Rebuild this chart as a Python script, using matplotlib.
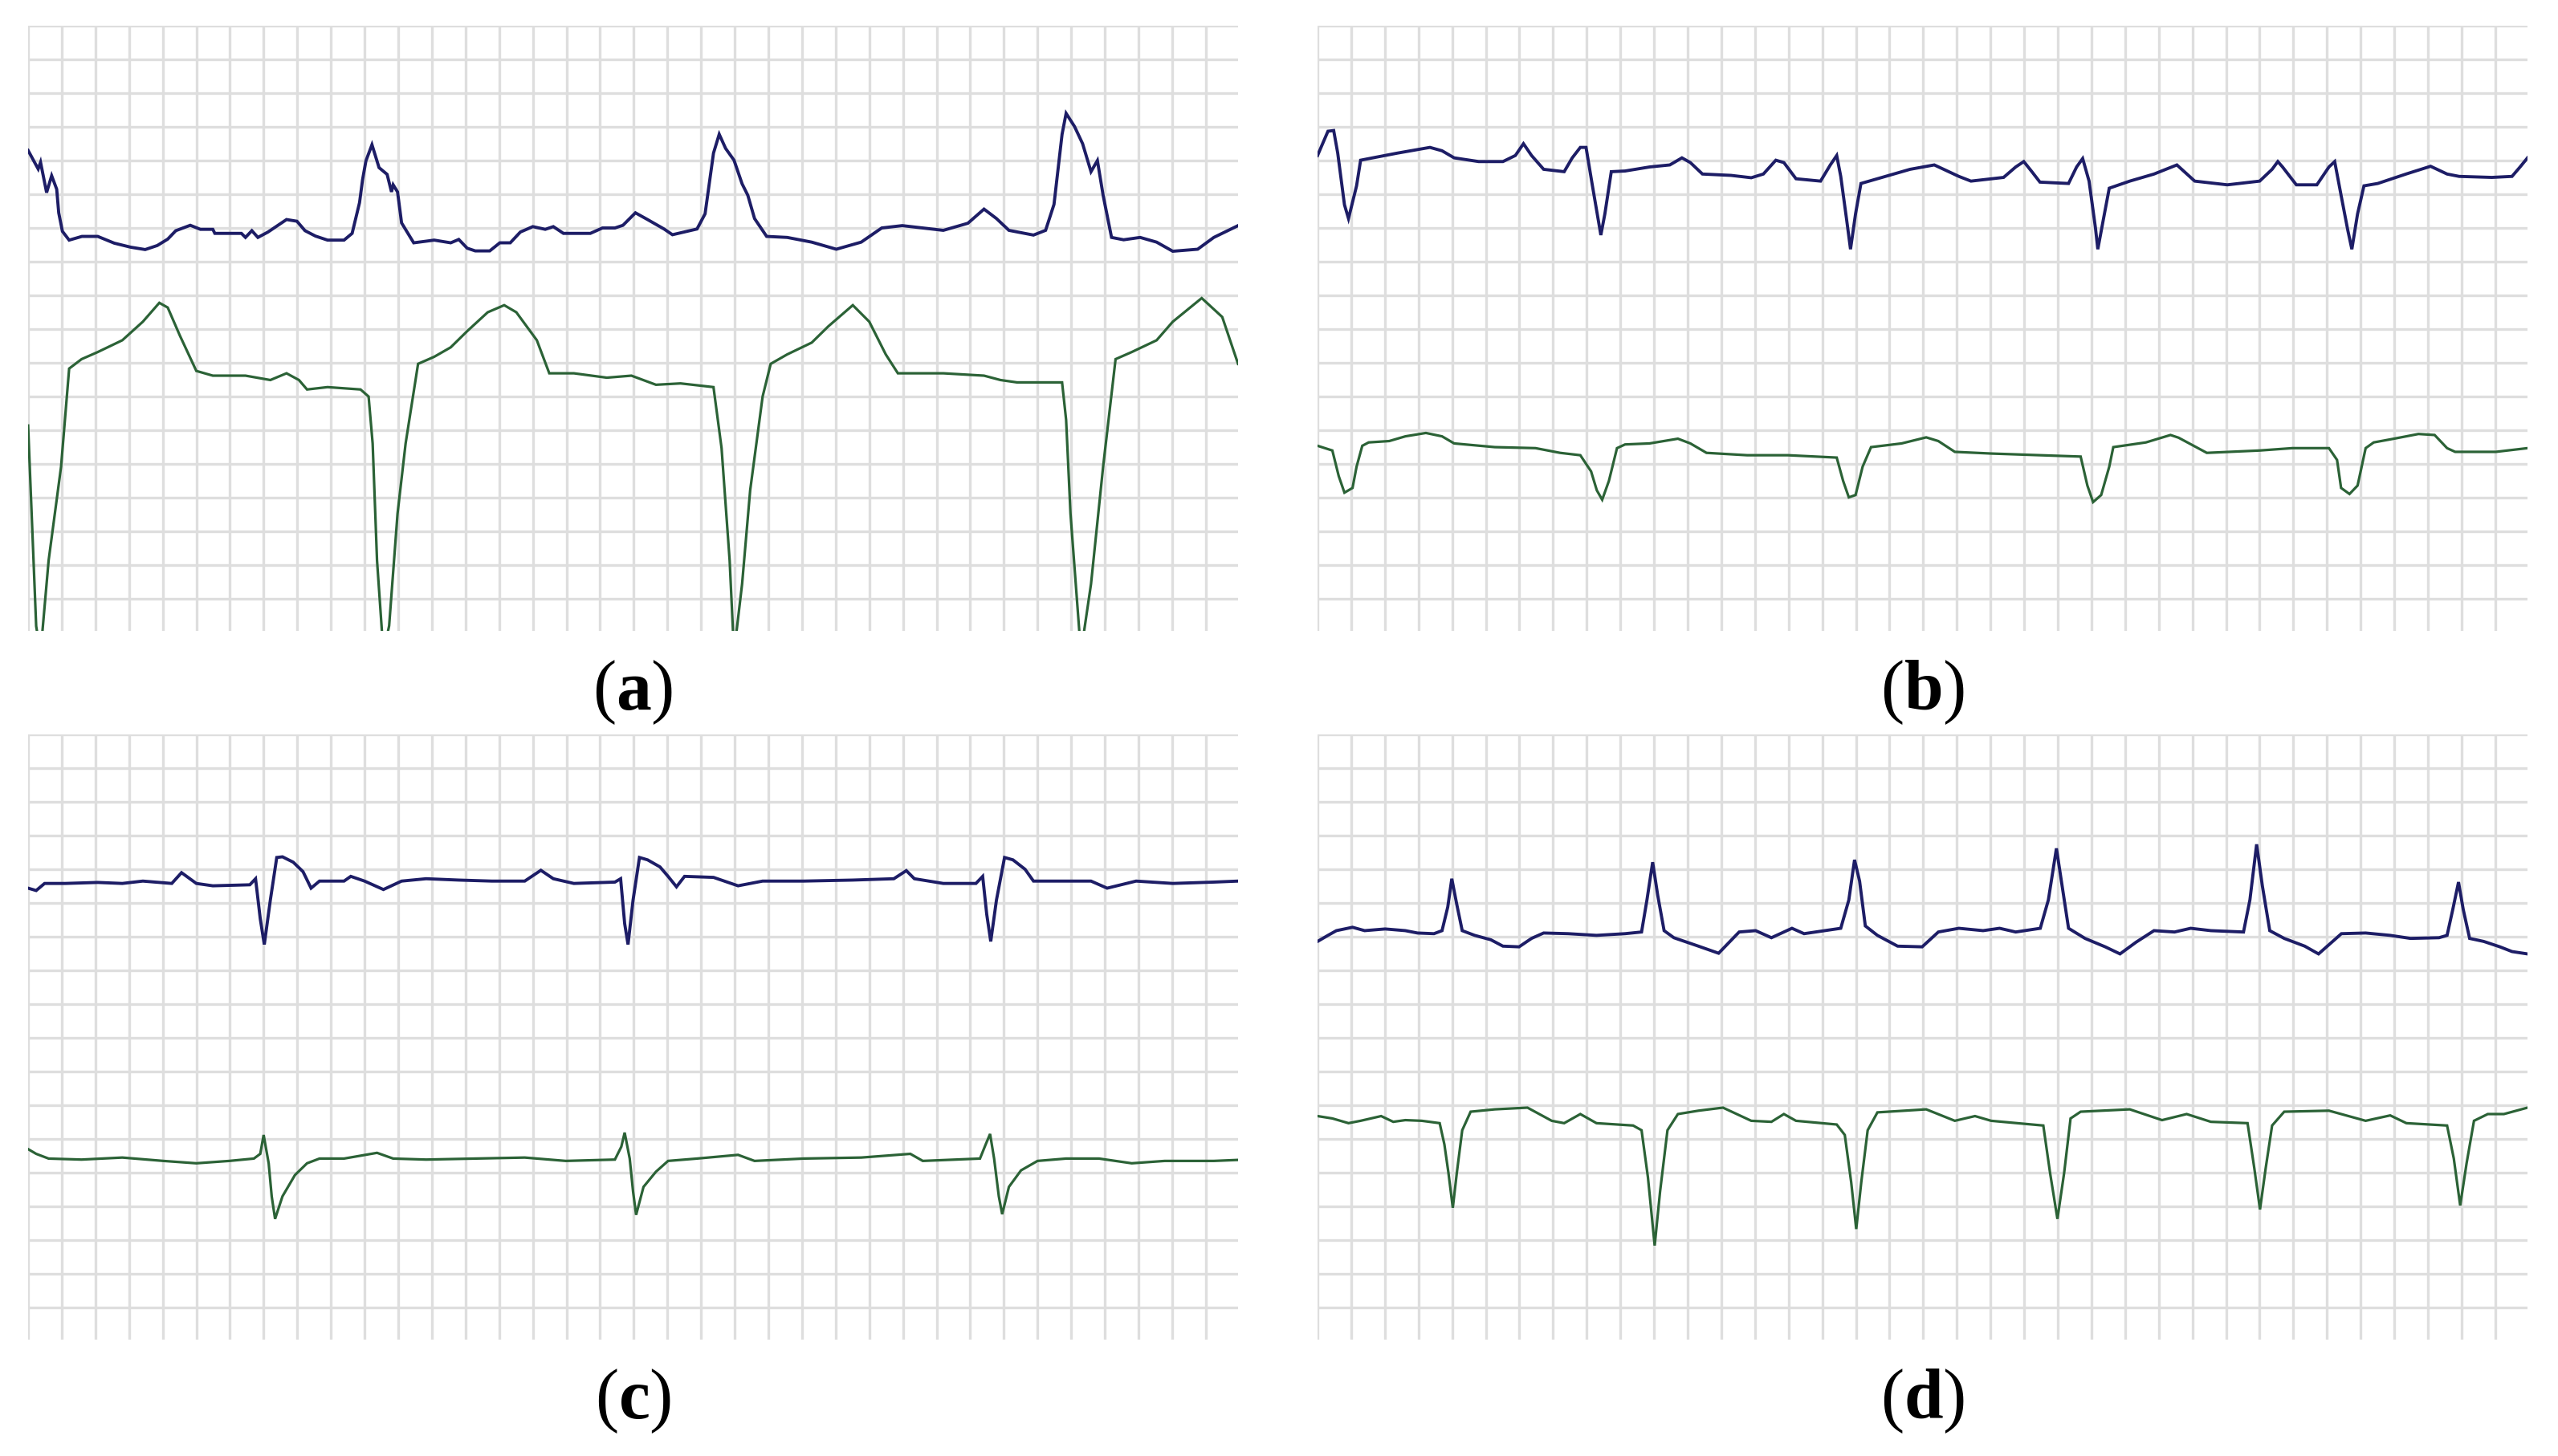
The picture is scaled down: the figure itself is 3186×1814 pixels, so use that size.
import matplotlib
matplotlib.use('Agg')
import matplotlib.pyplot as plt

plt.rcParams['mathtext.fontset'] = 'custom'
plt.rcParams['mathtext.rm'] = 'Liberation Serif'
plt.rcParams['mathtext.bf'] = 'Liberation Serif:bold'

# ---------------- data (grid units: x = small squares from left, y = squares from top) -------------
a_blue_x = [0.00,0.30,0.37,0.55,0.70,0.85,0.91,1.02,1.22,1.60,2.07,2.56,3.05,3.48,3.84,4.15,4.39,4.82,5.12,5.49,
            5.55,6.34,6.46,6.65,6.83,7.13,7.68,7.99,8.23,8.54,8.90,9.39,9.63,9.85,9.94,10.04,10.22,10.43,10.67,10.80,
            10.85,10.98,11.10,11.46,12.07,12.56,12.80,13.05,13.29,13.72,14.02,14.33,14.63,15.00,15.37,15.61,15.91,16.71,
            17.07,17.44,17.68,18.05,18.41,18.90,19.15,19.88,20.12,20.37,20.54,20.73,20.98,21.22,21.39,21.59,21.95,22.56,
            23.29,24.02,24.76,25.37,25.98,27.20,27.93,28.41,28.78,29.15,29.88,30.24,30.49,30.73,30.85,31.10,31.34,31.59,
            31.78,31.95,32.20,32.56,33.05,33.54,34.02,34.76,35.24,35.96]
a_blue_y = [3.70,4.25,4.05,4.95,4.45,4.85,5.55,6.10,6.36,6.25,6.25,6.45,6.57,6.64,6.52,6.33,6.08,5.92,6.04,6.04,
            6.16,6.16,6.28,6.08,6.28,6.12,5.75,5.80,6.08,6.24,6.36,6.36,6.16,5.25,4.57,4.01,3.53,4.21,4.41,4.93,
            4.72,4.93,5.85,6.44,6.36,6.44,6.34,6.60,6.68,6.68,6.44,6.44,6.12,5.96,6.04,5.96,6.16,6.16,
            6.00,6.00,5.92,5.55,5.75,6.03,6.20,6.03,5.58,3.78,3.22,3.64,3.99,4.69,5.03,5.72,6.25,6.28,
            6.42,6.63,6.42,6.00,5.93,6.07,5.86,5.44,5.72,6.07,6.21,6.07,5.30,3.22,2.60,2.99,3.50,4.33,
            4.00,5.03,6.28,6.35,6.28,6.42,6.69,6.63,6.28,5.93]

a_green_x = [0.00,0.24,0.37,0.61,0.98,1.22,1.59,2.07,2.80,3.41,3.90,4.15,4.51,5.00,5.49,6.46,7.20,7.68,8.05,8.29,
             8.90,9.88,10.12,10.24,10.37,10.56,10.73,10.98,11.22,11.59,12.07,12.56,13.05,13.66,14.15,14.51,15.12,15.49,
             16.22,17.20,17.93,18.66,19.39,20.37,20.61,20.85,20.98,21.22,21.46,21.83,22.07,22.56,23.29,23.78,24.51,
             25.00,25.49,25.85,27.20,28.41,28.90,29.39,30.73,30.85,30.98,31.29,31.59,31.95,32.32,32.80,33.54,34.02,
             34.88,35.49,35.96]
a_green_y = [11.86,17.81,18.60,15.86,13.08,10.17,9.89,9.68,9.33,8.78,8.22,8.36,9.19,10.24,10.38,10.38,10.51,10.31,10.51,10.79,
             10.72,10.79,11.00,12.39,15.86,18.60,17.80,14.47,12.39,10.03,9.82,9.54,9.06,8.50,8.29,8.50,9.33,10.31,
             10.31,10.44,10.38,10.65,10.61,10.72,12.53,15.86,18.60,16.56,13.78,11.00,10.03,9.75,9.40,8.92,8.29,
             8.78,9.75,10.31,10.31,10.38,10.51,10.58,10.58,11.69,14.47,18.60,16.56,13.08,9.89,9.68,9.33,8.78,
             8.08,8.64,10.03]

b_blue_x = [0.00,0.31,0.48,0.60,0.80,0.92,1.16,1.28,1.64,2.37,3.34,3.70,4.06,4.79,5.51,5.88,6.12,6.36,6.72,7.33,
            7.57,7.81,7.98,8.17,8.42,8.54,8.73,9.14,9.87,10.47,10.83,11.08,11.44,12.29,12.89,13.25,13.62,13.86,14.22,
            14.95,15.24,15.43,15.55,15.72,15.84,15.99,16.15,16.88,17.61,18.33,19.06,19.42,20.39,20.75,20.99,21.23,
            21.47,22.32,22.56,22.74,22.93,23.12,23.19,23.36,23.53,24.14,24.86,25.54,26.07,27.04,28.00,28.37,28.54,
            28.68,29.09,29.70,30.06,30.23,30.42,30.62,30.74,30.91,31.10,31.51,32.35,33.08,33.57,33.93,34.90,35.50,
            35.74,35.96]
b_blue_y = [3.85,3.13,3.11,3.78,5.31,5.72,4.75,3.99,3.92,3.78,3.61,3.71,3.92,4.03,4.03,3.85,3.50,3.85,4.26,4.33,
            3.92,3.61,3.61,4.75,6.21,5.58,4.33,4.31,4.19,4.13,3.92,4.06,4.40,4.44,4.51,4.40,3.99,4.06,4.54,
            4.61,4.13,3.85,4.47,5.72,6.63,5.58,4.68,4.47,4.26,4.13,4.47,4.61,4.50,4.19,4.03,4.33,
            4.64,4.68,4.19,3.94,4.61,6.00,6.63,5.72,4.82,4.61,4.40,4.13,4.61,4.72,4.61,4.26,4.03,
            4.19,4.72,4.72,4.19,4.03,5.03,6.07,6.63,5.58,4.75,4.68,4.40,4.17,4.40,4.47,4.50,4.47,
            4.19,3.92]

b_green_x = [0.00,0.44,0.63,0.80,1.04,1.16,1.33,1.52,2.13,2.61,3.22,3.70,4.06,5.27,6.48,7.21,7.81,8.13,8.30,8.46,
             8.66,8.90,9.14,9.87,10.71,11.08,11.56,12.77,13.98,15.43,15.62,15.79,15.99,16.20,16.45,17.36,18.09,18.45,
             18.94,20.02,21.48,22.68,22.88,23.05,23.29,23.53,23.65,24.62,25.35,25.59,26.43,28.00,28.97,30.06,30.30,
             30.42,30.67,30.91,31.15,31.39,31.99,32.72,33.20,33.57,33.81,35.02,35.96]
b_green_y = [12.46,12.60,13.36,13.85,13.71,13.08,12.46,12.36,12.32,12.18,12.08,12.18,12.39,12.50,12.53,12.67,12.74,13.22,13.78,14.06,
             13.50,12.53,12.42,12.39,12.25,12.39,12.67,12.74,12.74,12.81,13.50,13.99,13.92,13.08,12.50,12.39,12.21,12.32,
             12.64,12.69,12.74,12.78,13.64,14.13,13.92,13.08,12.50,12.36,12.14,12.22,12.67,12.60,12.53,12.53,12.88,
             13.71,13.89,13.64,12.53,12.36,12.25,12.11,12.14,12.53,12.64,12.64,12.53]

c_blue_x = [0.00,0.24,0.49,1.10,2.07,2.80,3.41,4.27,4.56,5.00,5.49,6.59,6.76,6.90,7.02,7.20,7.39,7.56,7.88,8.17,
            8.41,8.66,9.39,9.59,10.00,10.56,11.10,11.83,12.80,13.78,14.76,15.24,15.61,16.22,17.44,17.61,17.73,17.83,
            17.98,18.17,18.41,18.78,19.02,19.27,19.51,20.37,21.10,21.83,23.05,24.51,25.73,26.10,26.34,27.20,28.17,
            28.37,28.49,28.61,28.78,29.02,29.27,29.63,29.88,30.12,31.59,32.07,32.93,34.02,35.24,35.96]
c_blue_y = [4.56,4.63,4.42,4.42,4.39,4.42,4.35,4.42,4.10,4.42,4.49,4.46,4.28,5.47,6.23,4.91,3.65,3.63,3.79,4.07,
            4.56,4.35,4.35,4.21,4.35,4.60,4.35,4.28,4.32,4.35,4.35,4.03,4.28,4.42,4.38,4.28,5.61,6.23,
            4.91,3.65,3.72,3.93,4.21,4.52,4.21,4.24,4.49,4.35,4.35,4.32,4.28,4.04,4.28,4.42,4.42,
            4.21,5.33,6.14,4.91,3.65,3.72,4.00,4.35,4.35,4.35,4.56,4.35,4.42,4.38,4.35]

c_green_x = [0.00,0.24,0.61,1.59,2.80,4.02,5.00,5.98,6.71,6.90,7.00,7.15,7.24,7.34,7.56,7.93,8.29,8.66,9.39,10.37,
             10.85,11.83,13.29,14.76,15.98,17.44,17.63,17.73,17.88,17.98,18.07,18.29,18.66,19.02,19.88,21.10,21.59,
             23.05,24.76,26.22,26.59,28.29,28.46,28.59,28.71,28.85,28.95,29.15,29.51,30.00,30.85,31.83,32.80,33.78,
             35.24,35.96]
c_green_y = [12.30,12.44,12.58,12.61,12.55,12.65,12.72,12.65,12.58,12.44,11.88,12.72,13.70,14.37,13.70,13.07,12.72,12.58,12.58,12.41,
             12.58,12.61,12.58,12.55,12.65,12.61,12.23,11.81,12.58,13.56,14.25,13.42,12.97,12.65,12.58,12.47,12.65,
             12.58,12.55,12.44,12.65,12.58,12.16,11.85,12.58,13.70,14.23,13.42,12.93,12.65,12.58,12.58,12.72,12.65,
             12.65,12.62]

d_blue_x = [0.00,0.31,0.56,1.04,1.40,2.01,2.61,2.97,3.46,3.70,3.87,3.99,4.14,4.30,4.67,5.15,5.51,5.99,6.36,6.72,
            7.45,8.29,9.14,9.63,9.79,9.96,10.11,10.30,10.59,11.32,11.92,12.53,13.02,13.49,14.10,14.46,15.55,15.79,
            15.96,16.11,16.28,16.64,17.24,17.97,18.45,19.06,19.78,20.27,20.75,21.48,21.72,21.96,22.15,22.32,22.81,
            23.41,23.85,24.33,24.86,25.47,25.95,26.55,27.52,27.71,27.91,28.08,28.30,28.73,29.34,29.75,30.43,31.15,
            31.88,32.48,33.33,33.57,33.74,33.91,34.05,34.24,34.66,35.14,35.50,35.96]
d_blue_y = [6.14,5.96,5.82,5.72,5.82,5.77,5.82,5.89,5.91,5.82,5.12,4.28,5.05,5.82,5.96,6.09,6.28,6.30,6.05,5.89,
            5.91,5.96,5.91,5.86,4.91,3.79,4.77,5.82,6.03,6.28,6.49,5.86,5.82,6.03,5.75,5.91,5.75,4.91,
            3.72,4.35,5.68,5.96,6.28,6.30,5.86,5.75,5.82,5.75,5.86,5.75,4.91,3.38,4.63,5.75,6.05,
            6.30,6.51,6.16,5.82,5.86,5.75,5.82,5.86,4.91,3.26,4.49,5.82,6.05,6.28,6.51,5.91,5.89,
            5.96,6.05,6.03,5.96,5.19,4.38,5.19,6.05,6.14,6.30,6.44,6.51]

d_green_x = [0.00,0.44,0.92,1.28,1.89,2.25,2.61,3.10,3.63,3.77,3.89,4.02,4.14,4.30,4.55,5.27,6.24,6.96,7.33,7.81,
             8.29,9.38,9.63,9.82,10.02,10.18,10.40,10.71,11.32,12.05,12.89,13.49,13.86,14.22,15.43,15.67,15.86,16.01,
             16.16,16.35,16.64,18.09,18.94,19.54,20.02,21.57,21.77,21.99,22.19,22.38,22.68,24.14,25.10,25.83,26.55,
             27.64,27.84,28.01,28.18,28.37,28.73,30.06,31.15,31.88,32.36,33.57,33.77,33.96,34.15,34.37,34.78,35.26,
             35.96]
d_green_y = [11.32,11.39,11.53,11.46,11.32,11.49,11.44,11.46,11.53,12.16,13.00,14.04,13.00,11.74,11.19,11.12,11.07,11.46,11.53,11.26,
             11.53,11.60,11.74,13.14,15.16,13.56,11.74,11.26,11.16,11.07,11.46,11.49,11.26,11.46,11.57,11.88,13.28,14.67,
             13.28,11.74,11.21,11.12,11.46,11.32,11.46,11.60,13.00,14.37,13.00,11.39,11.19,11.12,11.44,11.26,11.49,
             11.53,12.86,14.09,12.86,11.60,11.19,11.16,11.46,11.30,11.53,11.60,12.58,13.97,12.72,11.46,11.26,11.26,
             11.07]

panel_labels = ['a', 'b', 'c', 'd']
panel_traces = {
    'a': ((a_blue_x, a_blue_y), (a_green_x, a_green_y)),
    'b': ((b_blue_x, b_blue_y), (b_green_x, b_green_y)),
    'c': ((c_blue_x, c_blue_y), (c_green_x, c_green_y)),
    'd': ((d_blue_x, d_blue_y), (d_green_x, d_green_y)),
}

# ---------------- layout / style -------------
W, H = 3186, 1814
PW, PH = 1507, 754
origins = {'a': (35, 32), 'b': (1641, 32), 'c': (35, 915), 'd': (1641, 915)}
XMAX, YMAX = 35.96, 17.95
GRID = '#dedede'
BLUE = '#1d1d66'
GREEN = '#2b6236'

fig = plt.figure(figsize=(W / 100, H / 100), dpi=100)
fig.patch.set_facecolor('white')

for key in panel_labels:
    x0, y0 = origins[key]
    ax = fig.add_axes([x0 / W, 1 - (y0 + PH) / H, PW / W, PH / H])
    ax.set_xlim(0, XMAX)
    ax.set_ylim(YMAX, 0)
    for s in ax.spines.values():
        s.set_visible(False)
    ax.set_xticks(range(36))
    ax.set_yticks(range(18))
    ax.tick_params(length=0, labelbottom=False, labelleft=False)
    ax.grid(True, color=GRID, lw=2.4)
    ax.set_axisbelow(True)
    (bx, by), (gx, gy) = panel_traces[key]
    ax.plot(bx, by, color=BLUE, lw=2.8, solid_joinstyle='miter', zorder=3)
    ax.plot(gx, gy, color=GREEN, lw=2.3, solid_joinstyle='miter', zorder=3)
    fig.text((x0 + PW / 2) / W, 1 - (y0 + 831) / H, r'($\mathbf{' + key + r'}$)',
             ha='center', va='center', family='Liberation Serif', fontsize=63)

fig.savefig('out.png', dpi=100, facecolor='white')
